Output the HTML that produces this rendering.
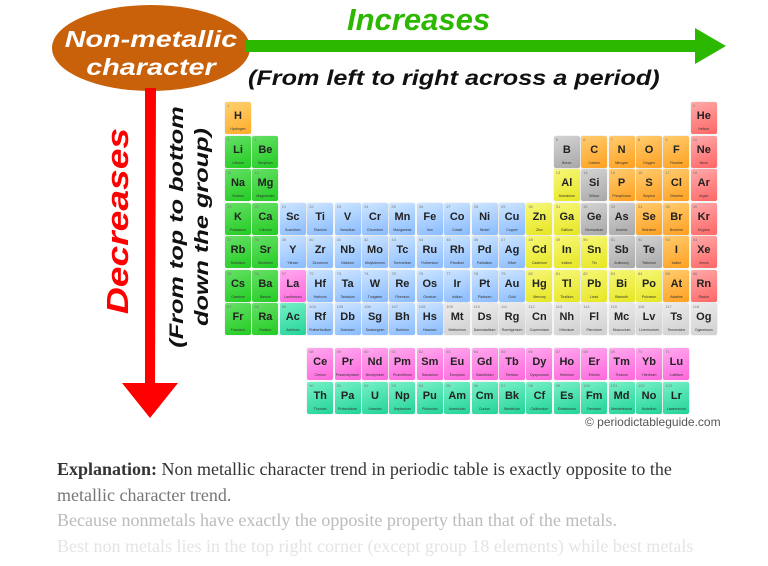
<!DOCTYPE html>
<html><head><meta charset="utf-8">
<style>
html,body{margin:0;padding:0;background:#fff;}
#root{position:relative;width:768px;height:566px;overflow:hidden;font-family:"Liberation Sans",sans-serif;}
.c{position:absolute;width:26px;height:32px;border-radius:2px;box-shadow:0 0 1px #bbb;box-sizing:border-box;}
.c .n{position:absolute;left:2px;top:1px;font-size:4px;color:#777;}
.c .s{position:absolute;left:0;right:0;top:8px;text-align:center;font-size:11px;font-weight:bold;color:#222;}
.c .m{position:absolute;left:0;right:0;top:25px;text-align:center;font-size:3.5px;color:#333;white-space:nowrap;overflow:hidden;}
.t{position:absolute;white-space:nowrap;}
</style></head><body><div id="root">
<svg width="768" height="566" style="position:absolute;left:0;top:0">
 <ellipse cx="151" cy="48" rx="99" ry="43" fill="#c9610a"/>
 <polygon points="246,40 695,40 695,28 726,46 695,64 695,52 246,52" fill="#2db800"/>
 <polygon points="145,88 156,88 155,383 178,383 150,418 122,383 145,383" fill="#f00"/>
</svg>
<div class="t" style="left:52px;top:25px;width:198px;text-align:center;color:#fff;font-weight:bold;font-style:italic;font-size:23px;line-height:28px;transform:scaleX(1.25);">Non-metallic<br>character</div>
<div class="t" style="left:347px;top:2px;color:#2db800;font-weight:bold;font-style:italic;font-size:31px;">Increases</div>
<div class="t" style="left:248px;top:67px;color:#111;font-weight:bold;font-style:italic;font-size:21px;transform-origin:0 0;transform:scaleX(1.2);">(From left to right across a period)</div>
<div class="t" style="left:118px;top:221px;transform:translate(-50%,-50%) rotate(-90deg) scaleX(1.2);color:#f00;font-weight:bold;font-style:italic;font-size:31px;">Decreases</div>
<div class="t" style="left:190px;top:227px;transform:translate(-50%,-50%) rotate(-90deg) scaleX(1.33);color:#111;font-weight:bold;font-style:italic;font-size:19px;line-height:25px;text-align:center;">(From top to bottom<br>down the group)</div>
<div class="t" style="left:585px;top:415px;color:#555;font-size:12px;">© periodictableguide.com</div>
<div class="t" style="left:57px;top:457px;font-family:'Liberation Serif',serif;font-size:18px;line-height:25.5px;color:#333;">
<div><b>Explanation:</b> Non metallic character trend in periodic table is exactly opposite to the</div>
<div style="color:#777">metallic character trend.</div>
<div style="color:#bbb">Because nonmetals have exactly the opposite property than that of the metals.</div>
<div style="color:#e4e4e4">Best non metals lies in the top right corner (except group 18 elements) while best metals</div>
</div>
<div id="pt"></div>
</div>
<script>
var C={h:["#ffd070","#ffad2a"],a:["#66e066","#22cc22"],t:["#cfe6ff","#88bbff"],p:["#f7f77a","#e6e622"],g:["#d4d4d4","#a8a8a8"],o:["#ffcc70","#ffa020"],r:["#ffaaaa","#ff6666"],u:["#ececec","#d0d0d0"],l:["#ffaaee","#ff66dd"],c:["#77f0c8","#22d497"]};
var E=[
[1,"H","Hydrogen",1,1,"h"],[2,"He","Helium",18,1,"r"],
[3,"Li","Lithium",1,2,"a"],[4,"Be","Beryllium",2,2,"a"],[5,"B","Boron",13,2,"g"],[6,"C","Carbon",14,2,"o"],[7,"N","Nitrogen",15,2,"o"],[8,"O","Oxygen",16,2,"o"],[9,"F","Fluorine",17,2,"o"],[10,"Ne","Neon",18,2,"r"],
[11,"Na","Sodium",1,3,"a"],[12,"Mg","Magnesium",2,3,"a"],[13,"Al","Aluminium",13,3,"p"],[14,"Si","Silicon",14,3,"g"],[15,"P","Phosphorus",15,3,"o"],[16,"S","Sulphur",16,3,"o"],[17,"Cl","Chlorine",17,3,"o"],[18,"Ar","Argon",18,3,"r"]];
var r4="K Potassium a|Ca Calcium a|Sc Scandium t|Ti Titanium t|V Vanadium t|Cr Chromium t|Mn Manganese t|Fe Iron t|Co Cobalt t|Ni Nickel t|Cu Copper t|Zn Zinc p|Ga Gallium p|Ge Germanium g|As Arsenic g|Se Selenium o|Br Bromine o|Kr Krypton r";
var r5="Rb Rubidium a|Sr Strontium a|Y Yttrium t|Zr Zirconium t|Nb Niobium t|Mo Molybdenum t|Tc Technetium t|Ru Ruthenium t|Rh Rhodium t|Pd Palladium t|Ag Silver t|Cd Cadmium p|In Indium p|Sn Tin p|Sb Antimony g|Te Tellurium g|I Iodine o|Xe Xenon r";
var r6="Cs Caesium a|Ba Barium a|La Lanthanum l|Hf Hafnium t|Ta Tantalum t|W Tungsten t|Re Rhenium t|Os Osmium t|Ir Iridium t|Pt Platinum t|Au Gold t|Hg Mercury p|Tl Thallium p|Pb Lead p|Bi Bismuth p|Po Polonium p|At Astatine o|Rn Radon r";
var r7="Fr Francium a|Ra Radium a|Ac Actinium c|Rf Rutherfordium t|Db Dubnium t|Sg Seaborgium t|Bh Bohrium t|Hs Hassium t|Mt Meitnerium u|Ds Darmstadtium u|Rg Roentgenium u|Cn Copernicium u|Nh Nihonium u|Fl Flerovium u|Mc Moscovium u|Lv Livermorium u|Ts Tennessine u|Og Oganesson u";
var rl="Ce Cerium l|Pr Praseodymium l|Nd Neodymium l|Pm Promethium l|Sm Samarium l|Eu Europium l|Gd Gadolinium l|Tb Terbium l|Dy Dysprosium l|Ho Holmium l|Er Erbium l|Tm Thulium l|Yb Ytterbium l|Lu Lutetium l";
var ra="Th Thorium c|Pa Protactinium c|U Uranium c|Np Neptunium c|Pu Plutonium c|Am Americium c|Cm Curium c|Bk Berkelium c|Cf Californium c|Es Einsteinium c|Fm Fermium c|Md Mendelevium c|No Nobelium c|Lr Lawrencium c";
function add(s,row,startZ,zs){s.split("|").forEach(function(x,i){var p=x.split(" ");E.push([zs?zs[i]:startZ+i,p[0],p[1],i+1,row,p[2]]);});}
add(r4,4,19);add(r5,5,37);
add(r6,6,0,[55,56,57,72,73,74,75,76,77,78,79,80,81,82,83,84,85,86]);
add(r7,7,0,[87,88,89,104,105,106,107,108,109,110,111,112,113,114,115,116,117,118]);
rl.split("|").forEach(function(x,i){var p=x.split(" ");E.push([58+i,p[0],p[1],i+4,8,p[2]]);});
ra.split("|").forEach(function(x,i){var p=x.split(" ");E.push([90+i,p[0],p[1],i+4,9,p[2]]);});
var h="";E.forEach(function(e){var x=225+(e[3]-1)*27.4,y=102+(e[4]-1)*33.55;if(e[4]==8)y=348;if(e[4]==9)y=382;var c=C[e[5]];
h+='<div class="c" style="left:'+x.toFixed(1)+'px;top:'+y.toFixed(1)+'px;background:linear-gradient(160deg,'+c[0]+','+c[1]+')"><span class="n">'+e[0]+'</span><span class="s">'+e[1]+'</span><span class="m">'+e[2]+'</span></div>';});
document.getElementById("pt").innerHTML=h;
</script>
</body></html>
